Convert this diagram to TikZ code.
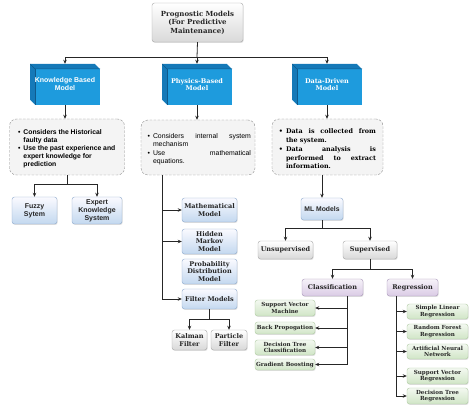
\documentclass[tikz,border=0pt]{standalone}
\usepackage{fontspec}
\setmainfont{DejaVu Serif}
\setsansfont{Liberation Sans}
\usepackage{enumitem}
\usetikzlibrary{arrows.meta,shadows}

\hyphenpenalty=10000
\tolerance=9999
\hbadness=10000

\definecolor{cubefront}{HTML}{1E9BDD}
\definecolor{cubeside}{HTML}{1579B8}
\definecolor{cubeedge}{HTML}{0F5A8C}
\definecolor{leafblue}{HTML}{C3D8EF}
\definecolor{leafblueline}{HTML}{8DA9CC}
\definecolor{leafgreen}{HTML}{D0E5C6}
\definecolor{leafgreenline}{HTML}{B0CBA3}
\definecolor{leafpurple}{HTML}{DACBE5}
\definecolor{leafpurpleline}{HTML}{A896B8}
\definecolor{notefill}{HTML}{F4F4F4}

\tikzset{
  box/.style={rounded corners=2.5pt, align=center, inner sep=1pt, text=black!85,
    font=\bfseries\fontsize{6.5}{7.8}\selectfont,
    drop shadow={shadow xshift=0.7pt, shadow yshift=-0.9pt, opacity=0.25}},
  bluebox/.style={box, draw=leafblueline, top color=blue!2, bottom color=leafblue},
  graybox/.style={box, draw=black!35, top color=white, bottom color=black!15},
  purplebox/.style={box, draw=leafpurpleline, top color=leafpurple!25, bottom color=leafpurple},
  greenbox/.style={box, draw=leafgreenline, top color=leafgreen!25, bottom color=leafgreen,
    minimum width=61pt, font=\bfseries\fontsize{5.6}{6.6}\selectfont},
  note/.style={draw=black!45, dash pattern=on 2.5pt off 1.5pt, rounded corners=7pt,
    fill=notefill, inner ysep=2pt, align=justify},
  cube/.style={fill=cubefront, minimum width=70pt, minimum height=41pt, inner sep=0pt,
    align=center, text=white, font=\bfseries\fontsize{6.5}{7.8}\selectfont,
    path picture={
      \fill[cubeside] (path picture bounding box.north west)
        -- ([xshift=-5pt]path picture bounding box.north east)
        -- ([yshift=-5pt]path picture bounding box.north east)
        -- ([xshift=5pt,yshift=-5pt]path picture bounding box.north west)
        -- ([xshift=5pt]path picture bounding box.south west)
        -- ([yshift=5pt]path picture bounding box.south west) -- cycle;
      \fill[white] (path picture bounding box.north east)
        -- ([xshift=-5pt]path picture bounding box.north east)
        -- ([yshift=-5pt]path picture bounding box.north east) -- cycle;
      \fill[white] (path picture bounding box.south west)
        -- ([xshift=5pt]path picture bounding box.south west)
        -- ([yshift=5pt]path picture bounding box.south west) -- cycle;
      \draw[cubeedge, line width=0.5pt] (path picture bounding box.north west)
        -- ([xshift=5pt,yshift=-5pt]path picture bounding box.north west)
        -- ([yshift=-5pt]path picture bounding box.north east);
      \draw[cubeedge, line width=0.5pt] ([xshift=5pt,yshift=-5pt]path picture bounding box.north west)
        -- ([xshift=5pt]path picture bounding box.south west);
    }},
  link/.style={draw=black!85, line width=0.8pt},
  arrow/.style={link, -{Stealth[length=4pt,width=3.5pt]}},
}

\begin{document}
\begin{tikzpicture}[x=1pt, y=-1pt]
    \useasboundingbox (0,0) rectangle (474,411);

    % Root
    \node[graybox, minimum width=91pt, minimum height=39pt, font=\bfseries\fontsize{7}{8.5}\selectfont]
      (top) at (197.5,22.5) {Prognostic Models\\(For Predictive\\Maintenance)};

    % Model families
    \node[cube, font=\sffamily\bfseries\fontsize{7}{8}\selectfont] (kb) at (65,84.5) {Knowledge Based\\Model};
    \node[cube] (pb) at (197,84.5) {Physics-Based\\Model};
    \node[cube] (dd) at (327,84.5) {Data-Driven\\Model};

    % Descriptions
    \node[note, text width=103pt, inner xsep=6pt, minimum height=56pt,
      font=\sffamily\bfseries\fontsize{6.8}{8}\selectfont] (kbnote) at (67,147)
      {\raggedright\begin{itemize}[nosep,leftmargin=8pt,labelsep=3pt,label=\textbullet]
        \item Considers the Historical faulty data
        \item Use the past experience and expert knowledge for prediction
      \end{itemize}};
    \node[note, text width=106pt, inner xsep=4pt, minimum height=55pt,
      font=\sffamily\fontsize{6.9}{8.4}\selectfont] (pbnote) at (198,147.5)
      {\begin{itemize}[nosep,leftmargin=8pt,labelsep=3pt,label=\textbullet]
        \item Considers internal system\linebreak mechanism
        \item Use mathematical\linebreak equations.
      \end{itemize}};
    \node[note, text width=97pt, inner xsep=7pt, minimum height=56pt,
      font=\bfseries\fontsize{6.4}{8.7}\selectfont] (ddnote) at (327.5,147)
      {\begin{itemize}[nosep,leftmargin=7pt,labelsep=3pt,label=\textbullet]
        \item Data is collected from\linebreak the system.
        \item Data analysis is\linebreak performed to extract\linebreak information.
      \end{itemize}};

    % Knowledge based
    \node[bluebox, minimum width=45pt, minimum height=27pt, font=\sffamily\bfseries\fontsize{7}{8}\selectfont]
      (fuzzy) at (34.5,210.5) {Fuzzy\\Sytem};
    \node[bluebox, minimum width=50pt, minimum height=27pt, font=\sffamily\bfseries\fontsize{7}{8}\selectfont]
      (expert) at (97,210.5) {Expert\\Knowledge\\System};

    % Physics based
    \node[bluebox, minimum width=55pt, minimum height=24pt] (mm) at (209.5,210) {Mathematical\\Model};
    \node[bluebox, minimum width=55pt, minimum height=25pt] (hmm) at (209.5,241.5) {Hidden\\Markov\\Model};
    \node[bluebox, minimum width=55pt, minimum height=25pt] (pdm) at (209.5,271.5) {Probability\\Distribution\\Model};
    \node[bluebox, minimum width=55pt, minimum height=20pt] (fm) at (209.5,299) {Filter Models};
    \node[graybox, minimum width=35pt, minimum height=20pt] (kalman) at (189.5,340) {Kalman\\Filter};
    \node[graybox, minimum width=36pt, minimum height=20pt] (particle) at (229,340) {Particle\\Filter};

    % Data driven
    \node[bluebox, minimum width=42pt, minimum height=22pt, font=\sffamily\bfseries\fontsize{6.8}{8}\selectfont]
      (ml) at (322,209) {ML Models};
    \node[graybox, minimum width=55pt, minimum height=18pt] (unsup) at (285.5,250) {Unsupervised};
    \node[graybox, minimum width=54pt, minimum height=18pt] (sup) at (370,250) {Supervised};
    \node[purplebox, minimum width=61pt, minimum height=17pt] (cls) at (332.5,287.5) {Classification};
    \node[purplebox, minimum width=51pt, minimum height=17pt] (reg) at (412.5,287.5) {Regression};

    \node[greenbox, minimum width=60pt, minimum height=16pt] (svm) at (285,308) {Support Vector\\Machine};
    \node[greenbox, minimum width=60pt, minimum height=12pt] (bp) at (285,328) {Back Propogation};
    \node[greenbox, minimum width=60pt, minimum height=15pt] (dtc) at (285,347.5) {Decision Tree\\Classification};
    \node[greenbox, minimum width=60pt, minimum height=11pt] (gb) at (285,364.5) {Gradient Boosting};

    \node[greenbox, minimum height=15pt] (slr) at (437.5,311.5) {Simple Linear\\Regression};
    \node[greenbox, minimum height=15pt] (rfr) at (437.5,331.5) {Random Forest\\Regression};
    \node[greenbox, minimum height=15pt] (ann) at (437.5,351.5) {Artificial Neural\\Network};
    \node[greenbox, minimum height=16pt] (svr) at (437.5,376) {Support Vector\\Regression};
    \node[greenbox, minimum height=16pt] (dtr) at (437.5,396) {Decision Tree\\Regression};

    % Connectors
    \coordinate (bus) at (197,57);
    \draw[link] (top.south) -- (bus);
    \draw[arrow] (bus) -| (kb.north);
    \draw[arrow] (bus) -- (pb.north);
    \draw[arrow] (bus) -| (dd.north);

    \draw[arrow] (kb.south) -- (kb.south |- kbnote.north);
    \draw[arrow] (pb.south) -- (pb.south |- pbnote.north);
    \draw[arrow] (dd.south) -- (dd.south |- ddnote.north);

    \draw[arrow] (kbnote.south) -- ++(0,9) -| (fuzzy.north);
    \draw[arrow] (kbnote.south) -- ++(0,9) -| (expert.north);

    \coordinate (ptrunk) at ([xshift=22pt]pbnote.south west);
    \draw[arrow] (ptrunk) |- (mm.west);
    \draw[arrow] (ptrunk) |- (hmm.west);
    \draw[arrow] (ptrunk) |- (fm.west);
    \draw[arrow] (fm.south) -- ++(0,10) -| (kalman.north);
    \draw[arrow] (fm.south) -- ++(0,10) -| (particle.north);

    \draw[arrow] (ddnote.south -| ml.north) -- (ml.north);
    \draw[arrow] (ml.south) -- ++(0,8) -| (unsup.north);
    \draw[arrow] (ml.south) -- ++(0,8) -| (sup.north);
    \draw[arrow] (sup.south) -- ++(0,10) -| (cls.north);
    \draw[arrow] (sup.south) -- ++(0,10) -| (reg.north);

    \coordinate (ctrunk) at ([xshift=-16pt]cls.south east);
    \foreach \leaf in {svm,bp,dtc,gb}
      \draw[arrow] (ctrunk) |- (\leaf.east);
    \coordinate (rtrunk) at ([xshift=10pt]reg.south west);
    \foreach \leaf in {slr,rfr,ann,svr,dtr}
      \draw[arrow] (rtrunk) |- (\leaf.west);

\end{tikzpicture}
\end{document}
